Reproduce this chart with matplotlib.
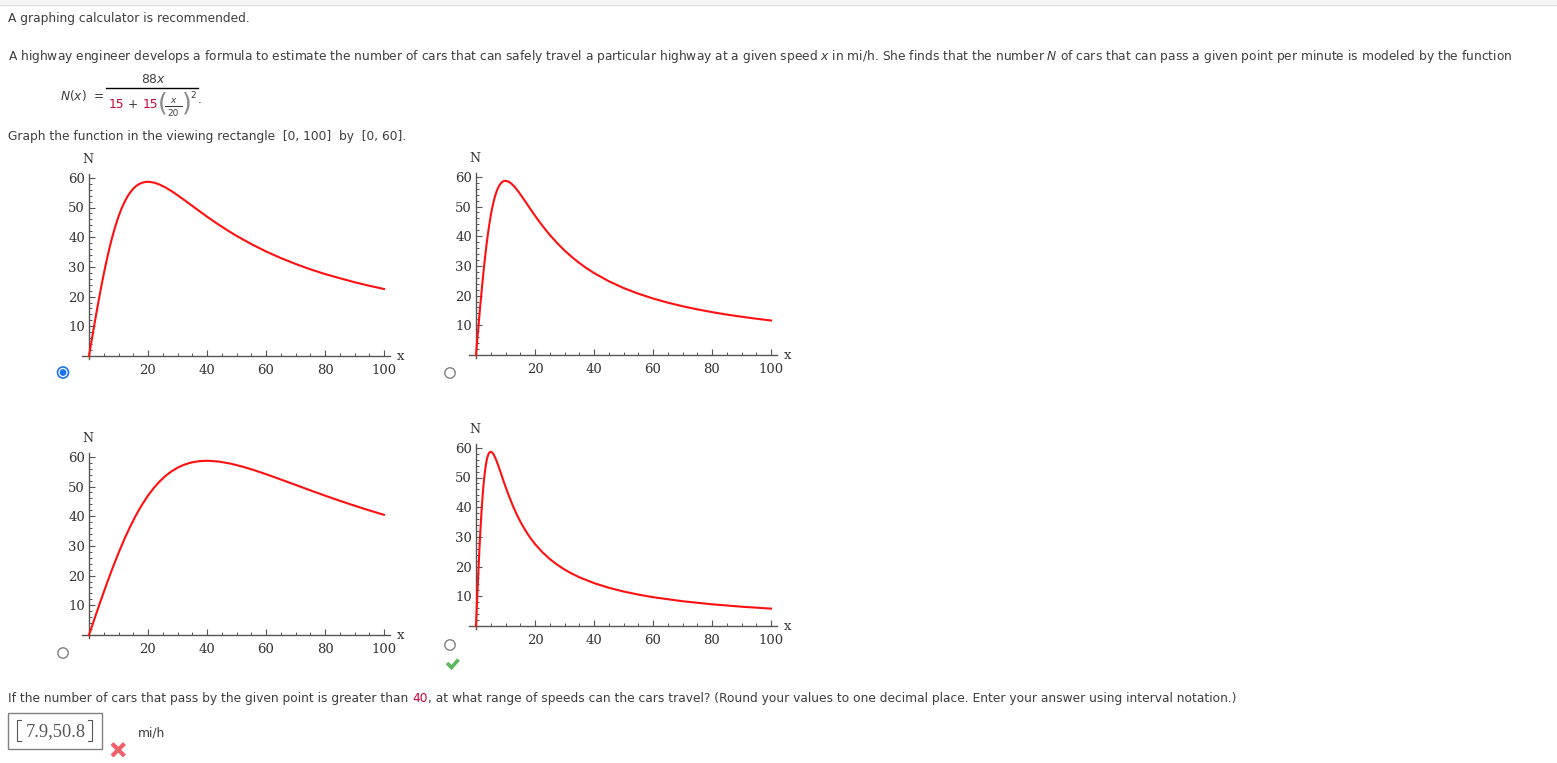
import matplotlib
matplotlib.use("Agg")
import matplotlib.pyplot as plt
from matplotlib.patches import Rectangle, Circle
from matplotlib.ticker import MultipleLocator

W, H = 1557, 763
TEXT = "#3d3d3d"
RED = "#cc0033"

# curve readings, one pair of lists per option
x_a = [0, 1, 2, 3, 4, 5, 6, 7, 8, 9, 10, 11, 12, 13, 14, 15, 16, 17, 18, 19, 20, 22, 24, 26, 28, 30, 32, 35, 37.5, 40, 42.5, 45, 47.5, 50, 55, 60, 65, 70, 75, 80, 85, 90, 95, 100]
n_a = [0, 5.85, 11.62, 17.21, 22.56, 27.6, 32.3, 36.58, 40.46, 43.9, 46.93, 49.55, 51.76, 53.62, 55.12, 56.32, 57.24, 57.9, 58.34, 58.58, 58.67, 58.4, 57.7, 56.7, 55.5, 54.15, 52.73, 50.55, 48.72, 46.93, 45.2, 43.55, 41.96, 40.46, 37.7, 35.2, 33.0, 31.0, 29.2, 27.6, 26.2, 24.85, 23.65, 22.56]

x_b = [0, 0.5, 1, 1.5, 2, 2.5, 3, 3.5, 4, 4.5, 5, 5.5, 6, 6.5, 7, 7.5, 8, 8.5, 9, 9.5, 10, 11, 12, 13, 14, 15, 16, 17, 18, 19, 20, 21, 22, 23.5, 25, 27.5, 30, 32.5, 35, 37.5, 40, 45, 50, 55, 60, 65, 70, 75, 80, 85, 90, 95, 100]
n_b = [0, 5.85, 11.62, 17.21, 22.56, 27.6, 32.3, 36.58, 40.46, 43.9, 46.93, 49.55, 51.76, 53.62, 55.12, 56.32, 57.24, 57.9, 58.34, 58.58, 58.67, 58.4, 57.7, 56.7, 55.5, 54.15, 52.73, 51.28, 49.8, 48.36, 46.93, 45.54, 44.2, 42.27, 40.46, 37.7, 35.2, 33.0, 31.0, 29.2, 27.6, 24.85, 22.56, 20.65, 19.03, 17.63, 16.43, 15.37, 14.44, 13.61, 12.88, 12.22, 11.62]

x_c = [0, 2, 4, 6, 8, 10, 12, 14, 16, 18, 20, 22, 24, 26, 28, 30, 32, 34, 36, 38, 40, 44, 48, 52, 56, 60, 64, 70, 75, 80, 85, 90, 95, 100]
n_c = [0, 5.85, 11.62, 17.21, 22.56, 27.6, 32.3, 36.58, 40.46, 43.9, 46.93, 49.55, 51.76, 53.62, 55.12, 56.32, 57.24, 57.9, 58.34, 58.58, 58.67, 58.4, 57.7, 56.7, 55.5, 54.15, 52.73, 50.55, 48.72, 46.93, 45.2, 43.55, 41.96, 40.46]

x_d = [0, 0.25, 0.5, 0.75, 1, 1.25, 1.5, 1.75, 2, 2.25, 2.5, 2.75, 3, 3.25, 3.5, 3.75, 4, 4.25, 4.5, 4.75, 5, 5.5, 6, 6.5, 7, 7.5, 8, 8.5, 9, 9.5, 10, 10.5, 11, 12.5, 13.75, 15, 16.25, 17.5, 18.75, 20, 22.5, 25, 27.5, 30, 32.5, 35, 40, 45, 50, 55, 60, 70, 80, 90, 100]
n_d = [0, 5.85, 11.62, 17.21, 22.56, 27.6, 32.3, 36.58, 40.46, 43.9, 46.93, 49.55, 51.76, 53.62, 55.12, 56.32, 57.24, 57.9, 58.34, 58.58, 58.67, 58.4, 57.7, 56.7, 55.5, 54.15, 52.73, 51.28, 49.8, 48.36, 46.93, 45.54, 44.2, 40.46, 37.7, 35.2, 33.0, 31.0, 29.2, 27.6, 24.85, 22.56, 20.65, 19.03, 17.63, 16.43, 14.44, 12.88, 11.62, 10.58, 9.71, 8.34, 7.31, 6.5, 5.85]

x_ticks = [20, 40, 60, 80, 100]
y_ticks = [10, 20, 30, 40, 50, 60]

fig = plt.figure(figsize=(W / 100, H / 100), dpi=100, facecolor="white")

# page overlay in pixel coordinates for the question text and widgets
page = fig.add_axes([0, 0, 1, 1])
page.set_xlim(0, W)
page.set_ylim(H, 0)
page.axis("off")


def write(x, y, text, color=TEXT, size=8.87, **kw):
    return page.text(x, y, text, color=color, fontsize=size, family="DejaVu Sans", va="baseline", **kw)


def write_run(x, y, parts):
    # parts are drawn one after the other so colour can change inside a line
    r = fig.canvas.get_renderer()
    for s, c in parts:
        t = write(x, y, s, color=c)
        x += t.get_window_extent(r).width


page.add_patch(Rectangle((0, 0), W, 4, facecolor="#f6f6f6", edgecolor="none"))
page.plot([0, W], [4.5, 4.5], color="#dddddd", lw=1)

write(8, 22, "A graphing calculator is recommended.")
write(8, 60, "A highway engineer develops a formula to estimate the number of cars that can safely travel a particular highway at a given speed $x$ in mi/h. She finds that the number $N$ of cars that can pass a given point per minute is modeled by the function")

# N(x) formula
write(60, 100, "$N$($x$)  =")
write(141, 83, "88$x$")
page.plot([106, 198], [87.5, 87.5], color="black", lw=1)
write(109, 108, "15", color=RED)
write(128, 108, "+", color=TEXT)
write(143, 108, "15", color=RED)
page.text(158, 111, "(", fontsize=18, color="#8a8a8a", family="DejaVu Sans", va="baseline")
page.text(173.5, 103, "$x$", fontsize=6.5, color=TEXT, ha="center", va="baseline")
page.plot([165, 182], [105.5, 105.5], color="#333333", lw=0.7)
page.text(173.5, 116, "20", fontsize=6.5, color=TEXT, ha="center", va="baseline")
page.text(181.5, 111, ")", fontsize=18, color="#8a8a8a", family="DejaVu Sans", va="baseline")
page.text(190, 98, "2", fontsize=6.5, color=TEXT, va="baseline")
write(198, 103, ".")

write(8, 140, "Graph the function in the viewing rectangle  [0, 100]  by  [0, 60].")


def graph(x0, y0, xs, ys):
    # x0, y0 = pixel position of the origin; 2.95 px per x unit, 2.97 px per y unit
    left, right = x0 - 7, x0 + 301
    top, bottom = y0 - 182, y0 + 3
    ax = fig.add_axes([left / W, 1 - bottom / H, (right - left) / W, (bottom - top) / H])
    ax.patch.set_alpha(0)
    ax.set_xlim(-7 / 2.95, 301 / 2.95)
    ax.set_ylim(-3 / 2.97, 182 / 2.97)
    for s in ("top", "right"):
        ax.spines[s].set_visible(False)
    ax.spines["left"].set_position(("data", 0))
    ax.spines["bottom"].set_position(("data", 0))
    ax.spines["left"].set_color("#555555")
    ax.spines["bottom"].set_color("#555555")
    ax.spines["left"].set_linewidth(1.0)
    ax.spines["bottom"].set_linewidth(1.0)
    ax.set_xticks(x_ticks)
    ax.set_yticks(y_ticks)
    ax.xaxis.set_minor_locator(MultipleLocator(5))
    ax.yaxis.set_minor_locator(MultipleLocator(2))
    ax.tick_params(axis="x", which="major", direction="in", length=4, width=0.8, color="#555555", pad=6,
                   labelsize=9.5, labelcolor="#333333")
    ax.tick_params(axis="y", which="major", direction="in", length=4, width=0.8, color="#555555", pad=3,
                   labelsize=9.5, labelcolor="#333333")
    ax.tick_params(which="minor", direction="in", length=2, width=0.7, color="#555555")
    for lab in ax.get_xticklabels() + ax.get_yticklabels():
        lab.set_family("DejaVu Serif")
    ax.plot(xs, ys, color="#ff0f0f", lw=1.5, clip_on=False, zorder=5)
    page.text(x0 + 312, y0 + 4, "x", family="DejaVu Serif", fontsize=9.5, color="#333333", ha="center", va="baseline")
    page.text(x0 - 1, y0 - 193, "N", family="DejaVu Serif", fontsize=9, color="#333333", ha="center", va="baseline")
    return ax


graph(89, 356, x_a, n_a)
graph(476, 355, x_b, n_b)
graph(89, 635, x_c, n_c)
graph(476, 626, x_d, n_d)

# radio buttons
for cx, cy in [(450, 373), (63, 653), (450, 645)]:
    page.add_patch(Circle((cx, cy), 5.2, facecolor="white", edgecolor="#808080", lw=1))
page.add_patch(Circle((63, 372.5), 5.5, facecolor="white", edgecolor="#1a73f0", lw=1.2))
page.add_patch(Circle((63, 372.5), 3.4, facecolor="#1a73f0", edgecolor="none"))

# green check under the last option
page.plot([447, 451.5, 458.5], [663, 667.5, 659.5], color="#5cb85c", lw=2.6, solid_capstyle="butt", solid_joinstyle="miter")

write_run(8, 702, [
    ("If the number of cars that pass by the given point is greater than ", TEXT),
    ("40", RED),
    (", at what range of speeds can the cars travel? (Round your values to one decimal place. Enter your answer using interval notation.)", TEXT),
])

# answer box
page.add_patch(Rectangle((8.5, 712.5), 94, 36, facecolor="white", edgecolor="#808080", lw=1))
page.text(26, 736, "7.9,50.8", family="Liberation Serif", fontsize=13.2, color="#555555", va="baseline")
page.plot([21.5, 17.5, 17.5, 21.5], [720, 720, 741, 741], color="#555555", lw=0.8)
page.plot([88, 92, 92, 88], [720, 720, 741, 741], color="#555555", lw=0.8)
write(138, 736, "mi/h")

# red cross
page.plot([113.5, 123], [745, 754.5], color="#f0606a", lw=3)
page.plot([113.5, 123], [754.5, 745], color="#f0606a", lw=3)

fig.savefig("out.png", dpi=100, facecolor="white")
